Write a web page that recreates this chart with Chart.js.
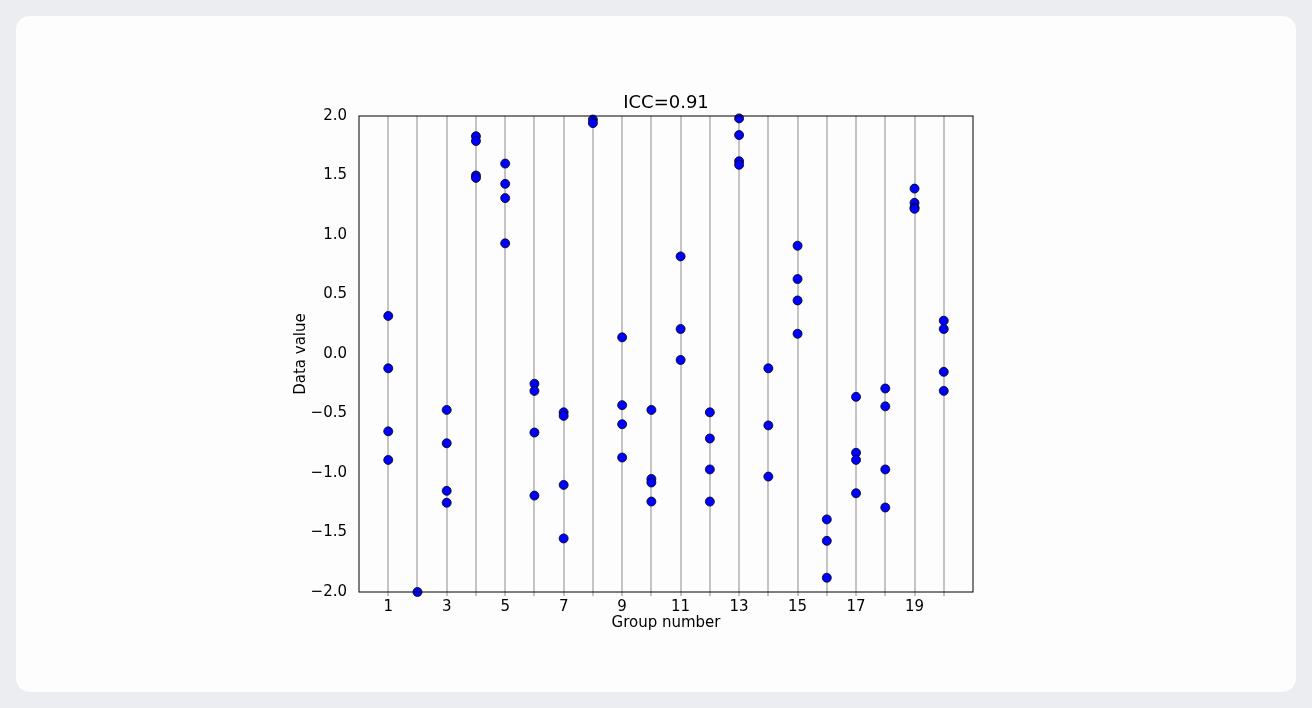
<!DOCTYPE html>
<html>
<head>
<meta charset="utf-8">
<script src="https://cdn.jsdelivr.net/npm/chart.js@4/dist/chart.umd.min.js"></script>
<style>
  body { margin: 0; background: #ebedf0; width: 1312px; height: 708px; overflow: hidden; }
  .card { position: absolute; left: 16px; top: 16px; width: 1280px; height: 676px; background: #fdfdfd; border-radius: 14px; }
</style>
</head>
<body>
<div class="card"><canvas id="c" width="1280" height="676"></canvas></div>
<script>
// values, one list per group
const groups = [1, 2, 3, 4, 5, 6, 7, 8, 9, 10, 11, 12, 13, 14, 15, 16, 17, 18, 19, 20];
const groupValues = [
  [0.32, -0.12, -0.65, -0.89],
  [-2.0],
  [-0.47, -0.75, -1.15, -1.25],
  [1.83, 1.79, 1.50, 1.48],
  [1.60, 1.43, 1.31, 0.93],
  [-0.25, -0.31, -0.66, -1.19],
  [-0.49, -0.52, -1.10, -1.55],
  [1.97, 1.94],
  [0.14, -0.43, -0.59, -0.87],
  [-0.47, -1.05, -1.08, -1.24],
  [0.82, 0.21, -0.05],
  [-0.49, -0.71, -0.97, -1.24],
  [1.98, 1.84, 1.62, 1.59],
  [-0.12, -0.60, -1.03],
  [0.91, 0.63, 0.45, 0.17],
  [-1.39, -1.57, -1.88],
  [-0.36, -0.83, -0.89, -1.17],
  [-0.29, -0.44, -0.97, -1.29],
  [1.39, 1.27, 1.23, 1.22],
  [0.28, 0.21, -0.15, -0.31]
];
const yTicks = [-2.0, -1.5, -1.0, -0.5, 0.0, 0.5, 1.0, 1.5, 2.0];
const chartTitle = 'ICC=0.91';

const points = [];
groups.forEach((g, i) => groupValues[i].forEach(v => points.push({ x: g, y: v })));

const frame = {
  id: 'frame',
  afterDraw(chart) {
    const { ctx, chartArea: a } = chart;
    ctx.save();
    ctx.strokeStyle = '#000';
    ctx.lineWidth = 1;
    ctx.strokeRect(a.left, a.top, a.right - a.left, a.bottom - a.top);
    ctx.fillStyle = '#000';
    ctx.font = '18px "DejaVu Sans"';
    ctx.textAlign = 'center';
    ctx.textBaseline = 'bottom';
    ctx.fillText(chartTitle, (a.left + a.right) / 2, a.top - 4);
    ctx.restore();
  }
};

const font = { family: 'DejaVu Sans', size: 15 };
new Chart(document.getElementById('c'), {
  type: 'scatter',
  data: { datasets: [{
    data: points,
    backgroundColor: '#0000ff',
    borderColor: '#000000',
    borderWidth: 0.8,
    pointRadius: 4.5,
    clip: false
  }] },
  options: {
    responsive: false,
    animation: false,
    layout: { padding: { left: 276, top: 100, right: 323, bottom: 60 } },
    plugins: { legend: { display: false }, tooltip: { enabled: false } },
    scales: {
      x: {
        min: 0, max: 21,
        afterFit(s) { s.height = 40; },
        ticks: {
          stepSize: 1, color: '#000', font, padding: 2,
          callback: v => (v % 2 === 1 && v < 20) ? String(v) : ''
        },
        grid: {
          drawTicks: true, tickLength: 4,
          color: c => (c.tick && c.tick.value >= 1 && c.tick.value <= 20) ? '#c4c4c4' : 'rgba(0,0,0,0)',
          lineWidth: 2
        },
        border: { display: false },
        title: { display: true, text: 'Group number', color: '#000', font, padding: 0 }
      },
      y: {
        min: -2, max: 2,
        afterFit(s) { s.width = 67; },
        afterBuildTicks(s) { s.ticks = yTicks.map(v => ({ value: v })); },
        ticks: {
          color: '#000', font, padding: 4,
          callback: v => v.toFixed(1).replace('-', '\u2212')
        },
        grid: { display: false },
        border: { display: false },
        title: { display: true, text: 'Data value', color: '#000', font, padding: 0 }
      }
    }
  },
  plugins: [frame]
});
</script>
</body>
</html>
